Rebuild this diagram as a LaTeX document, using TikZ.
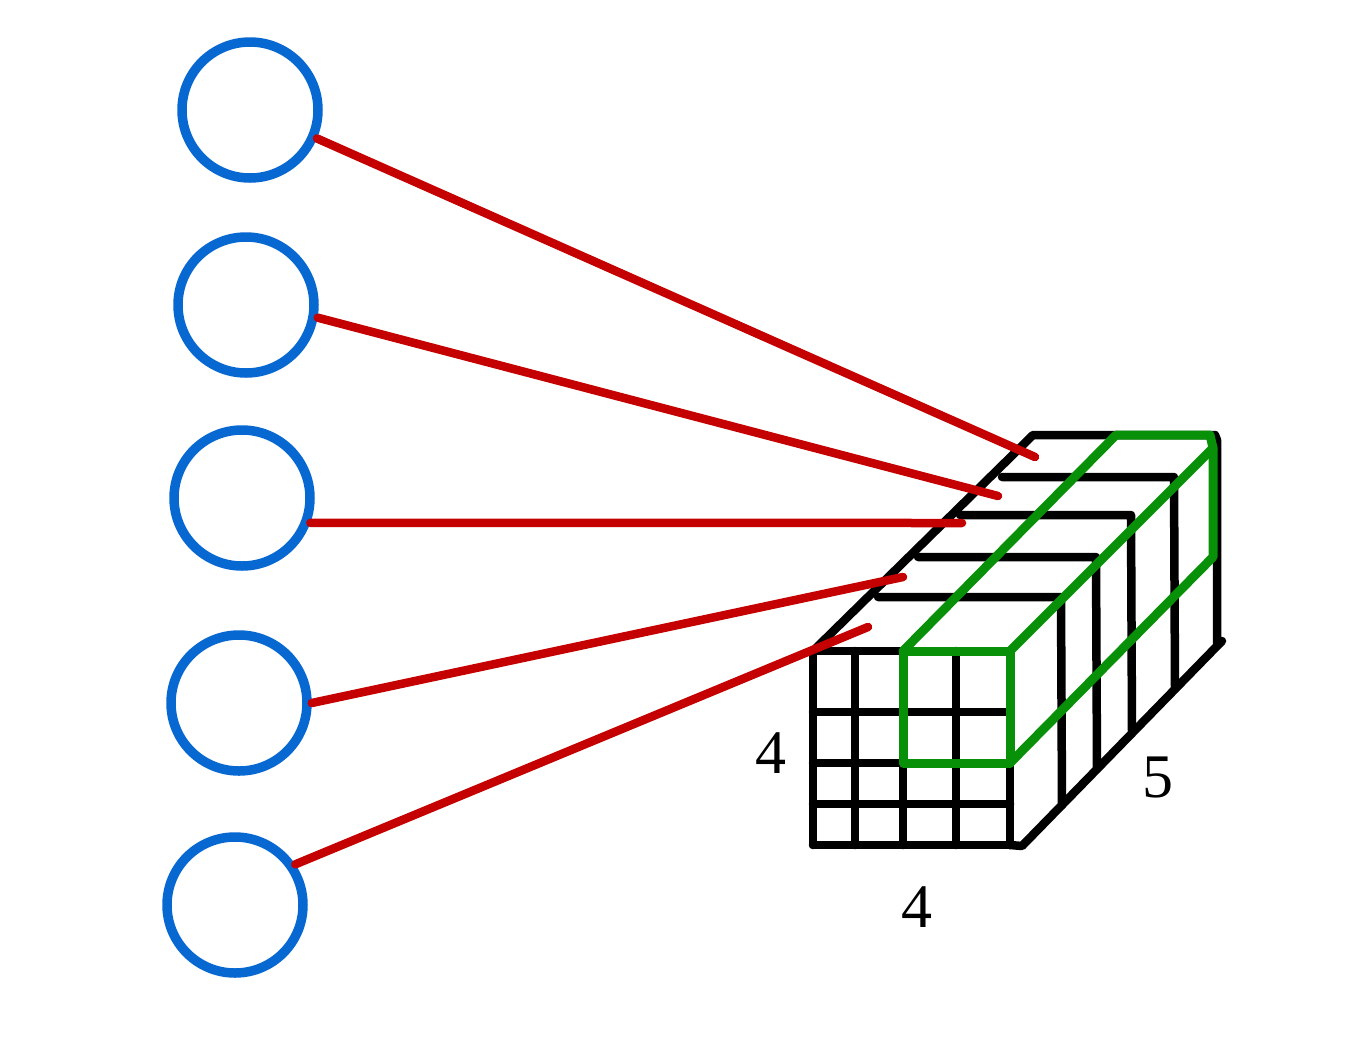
\documentclass[tikz,border=0pt]{standalone}
\usepackage{fontspec}
\setmainfont{Liberation Serif}
\definecolor{cblue}{RGB}{8,104,210}
\definecolor{cred}{RGB}{196,0,0}
\definecolor{cgreen}{RGB}{8,145,8}
\tikzset{
  unit/.style={circle,draw=cblue,line width=9.5pt,minimum size=136pt,inner sep=0pt},
  link/.style={draw=cred,line width=8.5pt,line cap=round},
  gridline/.style={draw=black,line width=8.5pt,line cap=round,line join=round},
  filt/.style={draw=cgreen,line width=9pt,line cap=round,line join=round},
  lab/.style={font=\fontsize{62}{70}\selectfont,inner sep=0pt}
}
\begin{document}
\begin{tikzpicture}[x=1pt,y=-1pt]
\useasboundingbox (0,0) rectangle (1358,1061);
% input units
\node[unit] (c1) at (250,110) {};
\node[unit] (c2) at (246,305) {};
\node[unit] (c3) at (242,498) {};
\node[unit] (c4) at (239,703) {};
\node[unit] (c5) at (235,905) {};
% black volume
\foreach \x in {813,855,903,956,1010} \draw[gridline] (\x,651) -- (\x,845);
\foreach \y in {651,712,763,804,845} \draw[gridline] (813,\y) -- (1010,\y);
\draw[gridline] (1010,845) -- (1022,846) -- (1220,643) -- (1222,641);
\draw[gridline] (813,651) -- (1033,435) -- (1215,435) -- (1217,440) -- (1217,643);
\draw[gridline] (1002,477) -- (1174,477) -- (1175,689);
\draw[gridline] (960,515) -- (1131,515) -- (1132,733);
\draw[gridline] (918,557) -- (1096,557) -- (1097,769);
\draw[gridline] (878,597) -- (1061,597) -- (1062,805);
% green filter
\draw[filt] (903,651) rectangle (1010,763);
\draw[filt] (903,651) -- (1116,435) -- (1210,435) -- (1213,448) -- (1213,557) -- (1010,763);
\draw[filt] (1010,651) -- (1213,448);
% connection endpoints
\coordinate (e1) at (1035,457);
\coordinate (e2) at (998,496);
\coordinate (e3) at (962,523);
\coordinate (e4) at (903,577);
\coordinate (e5) at (868,627);
\draw[link] (c1.-23) -- (e1);
\draw[link] (c2.-10) -- (e2);
\draw[link] (c3.-20) -- (e3);
\draw[link] (c4.0) -- (e4);
\draw[link] (c5.34) -- (e5);
% labels
\node[lab] (l1) at (771,753) {4};
\node[lab] (l2) at (917,907) {4};
\node[lab] (l3) at (1158,777) {5};
\end{tikzpicture}
\end{document}
